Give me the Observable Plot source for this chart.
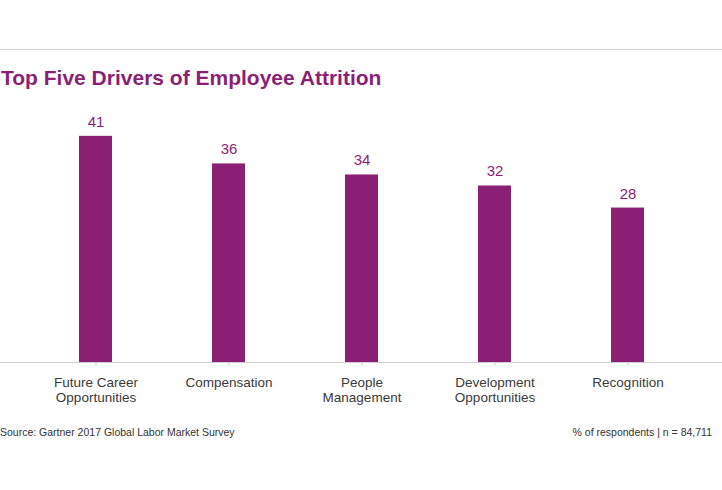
<!DOCTYPE html>
<html>
<head>
<meta charset="utf-8">
<script src="https://cdn.jsdelivr.net/npm/d3@7"></script>
<script src="https://cdn.jsdelivr.net/npm/@observablehq/plot@0.6"></script>
<style>
  html, body { margin: 0; padding: 0; background: #fff; }
  body { width: 722px; height: 490px; position: relative; overflow: hidden;
         font-family: "Liberation Sans", Arial, Helvetica, sans-serif; }
  .rule-top { position: absolute; left: 0; top: 49px; width: 722px; height: 0;
              border-top: 1px solid #ddd5da; }
  .title { position: absolute; left: 1px; top: 67px; font-size: 21px; line-height: 21px;
           font-weight: bold; color: #8b1f75; white-space: nowrap; }
  #chart { position: absolute; left: 0; top: 100px; }
  .foot { position: absolute; top: 427px; font-size: 10.5px; line-height: 10.5px;
          color: #333; white-space: nowrap; }
  .foot.left { left: 0; }
  .foot.right { right: 10px; }
</style>
</head>
<body>
<div class="rule-top"></div>
<div class="title">Top Five Drivers of Employee Attrition</div>
<div id="chart"></div>
<div class="foot left">Source: Gartner 2017 Global Labor Market Survey</div>
<div class="foot right">% of respondents | n = 84,711</div>
<script>
// Share of respondents naming each driver (%)
const categories = [
  "Future Career Opportunities",
  "Compensation",
  "People Management",
  "Development Opportunities",
  "Recognition"
];
const values = [41, 36, 34, 32, 28];
const tickLabels = [
  "Future Career\nOpportunities",
  "Compensation",
  "People\nManagement",
  "Development\nOpportunities",
  "Recognition"
];

const purple = "#8b1f75";
const rows = categories.map((c, i) => ({category: c, value: values[i]}));
const labelOf = new Map(categories.map((c, i) => [c, tickLabels[i]]));

const chart = Plot.plot({
  width: 722,
  height: 320,
  marginTop: 0,
  marginRight: 0,
  marginBottom: 58,
  marginLeft: 0,
  style: {
    fontFamily: "'Liberation Sans', Arial, Helvetica, sans-serif",
    background: "transparent"
  },
  x: {domain: categories, paddingInner: 0.753, paddingOuter: 0.583, axis: null},
  y: {domain: [0, 47.5], axis: null},
  marks: [
    Plot.barY(rows, {x: "category", y: "value", fill: purple}),
    Plot.text(rows, {
      x: "category", y: "value", text: d => String(d.value),
      lineAnchor: "bottom", dy: -9.5, fill: purple, fontSize: 15
    }),
    Plot.ruleY([0], {stroke: "#cfcfcf"}),
    Plot.axisX({
      tickSize: 3,
      tickPadding: 10,
      stroke: "#c4c4c4",
      fill: "#3a3a3a",
      fontSize: 13.5,
      lineHeight: 1.16,
      tickFormat: c => labelOf.get(c),
      label: null
    })
  ]
});
document.getElementById("chart").append(chart);
</script>
</body>
</html>
